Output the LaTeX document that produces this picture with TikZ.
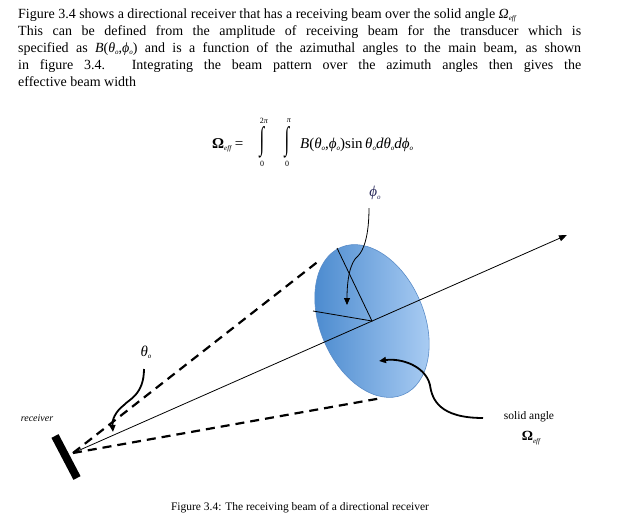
\documentclass[tikz,border=0pt]{standalone}
\usepackage{fontspec}
\setmainfont{Liberation Serif}
\usetikzlibrary{arrows.meta}
\newcommand{\mi}[1]{\textit{#1}}
\newcommand{\sbs}[1]{\raisebox{-0.35ex}{\scriptsize\itshape #1}}
\begin{document}
\begin{tikzpicture}[x=1pt,y=-1pt,
  lbl/.style={inner sep=0pt},
  pline/.style={lbl,anchor=base west,font=\fontsize{14}{16}\selectfont},
  lim/.style={lbl,font=\fontsize{8}{9}\selectfont},
  intg/.style={lbl,font=\fontsize{17}{17}\selectfont},
  dashline/.style={line width=2.2pt,dash pattern=on 9pt off 6pt},
  curvy/.style={line width=1.8pt,-{Triangle[length=7pt,width=6pt]}}]
\useasboundingbox (0,0) rectangle (630,531);
\node[pline] (l1) at (18,18) {Figure 3.4 shows a directional receiver that has a receiving beam over the solid angle \mi{Ω}\sbs{eff}};
\node[pline] (l2) at (18,35) {\makebox[563pt][s]{This can be defined from the amplitude of receiving beam for the transducer which is}};
\node[pline] (l3) at (18,52) {\makebox[563pt][s]{specified as \mi{B}(\mi{θ}\sbs{o},\mi{ϕ}\sbs{o}) and is a function of the azimuthal angles to the main beam, as shown}};
\node[pline] (l4) at (18,69) {\makebox[563pt][s]{in figure 3.4. Integrating the beam pattern over the azimuth angles then gives the}};
\node[pline] (l5) at (18,86) {effective beam width};
% equation
\node[lbl,anchor=base west,font=\fontsize{15}{16}\selectfont] (eqa) at (212,148) {\textbf{Ω}\sbs{eff} =};
\node[intg] (i1) at (262,142) {\scalebox{1}[1.9]{∫}};
\node[intg] (i2) at (287,142) {\scalebox{1}[1.9]{∫}};
\node[lim] (u1) at (264,121) {2\mi{π}};
\node[lim] (u2) at (289,121) {\mi{π}};
\node[lim] (d1) at (262,164) {0};
\node[lim] (d2) at (287,164) {0};
\node[lbl,anchor=base west,font=\fontsize{15}{16}\selectfont] (eqb) at (300,148) {\mi{B}(\mi{θ}\sbs{o},\mi{ϕ}\sbs{o})sin\,\mi{θ}\sbs{o}\mi{dθ}\sbs{o}\mi{dϕ}\sbs{o}};
\coordinate (apex) at (73,453);
\coordinate (tip) at (567,235);
\coordinate (ctr) at (372,321);
\draw[dashline] (apex) -- (320,260);
\draw[dashline] (apex) -- (382,398);
\shade[rotate around={23:(ctr)},left color={rgb,255:red,70;green,135;blue,205},right color={rgb,255:red,175;green,208;blue,245}]
  (ctr) ellipse (52 and 80);
\draw[rotate around={23:(ctr)},draw={rgb,255:red,90;green,140;blue,200},line width=0.6pt] (ctr) ellipse (52 and 80);
\draw[line width=0.8pt] (337,248) -- (ctr) -- (313,311);
\draw[line width=0.8pt,-{Triangle[length=8pt,width=6pt]}] (apex) -- (tip);
\draw[line width=8pt] (55,436) -- (77,478);
\node[lbl,font=\itshape\fontsize{10}{12}\selectfont] (rec) at (37,418) {receiver};
\node[lbl,font=\fontsize{15}{16}\selectfont] (th) at (146,352) {\mi{θ}\sbs{o}};
\draw[curvy] (144,369) .. controls (144,395) and (128,400) .. (124,405) .. controls (115,412) and (112,420) .. (113,432);
\node[lbl,font=\fontsize{15}{16}\selectfont,text={rgb,255:red,40;green,40;blue,90}] (ph) at (375,193) {\mi{ϕ}\sbs{o}};
\draw[line width=0.8pt,-{Triangle[length=7pt,width=6pt]}] (369,208) .. controls (369,235) and (364,250) .. (358,256) .. controls (350,262) and (347,280) .. (347,305);
\node[lbl,font=\fontsize{11.5}{13}\selectfont] (sa) at (529,417) {solid angle};
\node[lbl,font=\fontsize{14}{15}\selectfont] (om) at (531,438) {\textbf{Ω}\sbs{eff}};
\draw[curvy] (483,418) .. controls (440,418) and (432,400) .. (430,385) .. controls (425,365) and (400,358) .. (379,361);
\node[lbl,font=\fontsize{11.5}{13}\selectfont] (cap) at (300,508) {Figure 3.4: The receiving beam of a directional receiver};
\end{tikzpicture}
\end{document}
